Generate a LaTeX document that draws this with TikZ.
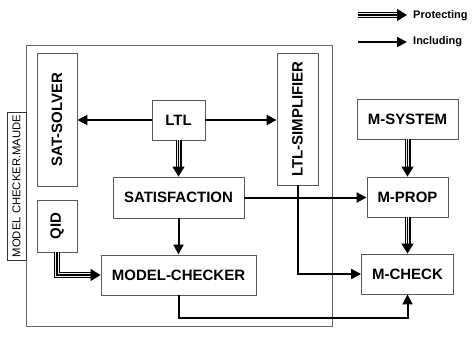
\documentclass[tikz,border=0pt]{standalone}
\usepackage{fontspec}
\setmainfont{Liberation Sans}
\usetikzlibrary{arrows.meta}
\begin{document}
\begin{tikzpicture}[x=1pt,y=-1pt,
  box/.style={draw=black!65, line width=0.9pt, fill=white, inner sep=0pt, align=center,
    font=\fontsize{15}{18}\selectfont\bfseries},
  incl/.style={line width=2pt, -{Triangle[length=10pt,width=10pt]}},
  prot/.style={line width=1.3pt, -{Triangle[length=10pt,width=12pt]},
    preaction={draw=black,-,line width=6pt,shorten >=8pt},
    preaction={draw=gray!15,-,line width=3.6pt,shorten >=8pt}},
  legtext/.style={anchor=west, inner sep=0pt, font=\fontsize{11}{13}\selectfont\bfseries},
]
\useasboundingbox (0,0) rectangle (474,337);
% outer module box
\draw[draw=black!60, line width=0.8pt] (26,45) rectangle (332,326);
\node[draw=black!80, line width=0.9pt, rotate=90, minimum width=148pt, minimum height=19pt, inner sep=0pt,
  font=\fontsize{11.3}{13}\selectfont] (maude) at (16.5,186) {MODEL CHECKER.MAUDE};
% nodes
\node[box, rotate=90, minimum width=133pt, minimum height=40pt] (sat) at (57,119.5) {SAT-SOLVER};
\node[box, rotate=90, minimum width=52pt, minimum height=40pt] (qid) at (57,226) {QID};
\node[box, minimum width=53pt, minimum height=40pt] (ltl) at (178.5,120) {LTL};
\node[box, minimum width=131pt, minimum height=41pt] (satis) at (178.5,197.5) {SATISFACTION};
\node[box, minimum width=155pt, minimum height=40pt] (mc) at (178.5,275) {MODEL-CHECKER};
\node[box, rotate=90, minimum width=132pt, minimum height=41pt] (ltls) at (297.5,119) {LTL-SIMPLIFIER};
\node[box, minimum width=101pt, minimum height=40pt] (msys) at (407.5,119) {M-SYSTEM};
\node[box, minimum width=81pt, minimum height=40pt] (mprop) at (407.5,197) {M-PROP};
\node[box, minimum width=92pt, minimum height=40pt] (mcheck) at (407.5,274) {M-CHECK};
% connectors
\draw[incl] (ltl.west) -- (sat.south |- ltl.west);
\draw[incl] (ltl.east) -- (ltls.north |- ltl.east);
\draw[prot] (ltl.south) -- (satis.north);
\draw[incl] (satis.south) -- (mc.north);
\draw[incl] (satis.east) -- (mprop.west |- satis.east);
\draw[incl] (ltls.west) |- (mcheck.west);
\draw[prot] (qid.west) |- (mc.west);
\draw[incl] (mc.south) -- ++(0,23) -| (mcheck.south);
\draw[prot] (msys.south) -- (mprop.north);
\draw[prot] (mprop.south) -- (mcheck.north);
% legend
\coordinate (pa) at (358,15);
\coordinate (pb) at (407,15);
\coordinate (ia) at (358,42);
\coordinate (ib) at (407,42);
\draw[prot] (pa) -- (pb);
\draw[incl] (ia) -- (ib);
\node[legtext] (ptext) at (413,16) {Protecting};
\node[legtext] (itext) at (413,42) {Including};
\end{tikzpicture}
\end{document}
